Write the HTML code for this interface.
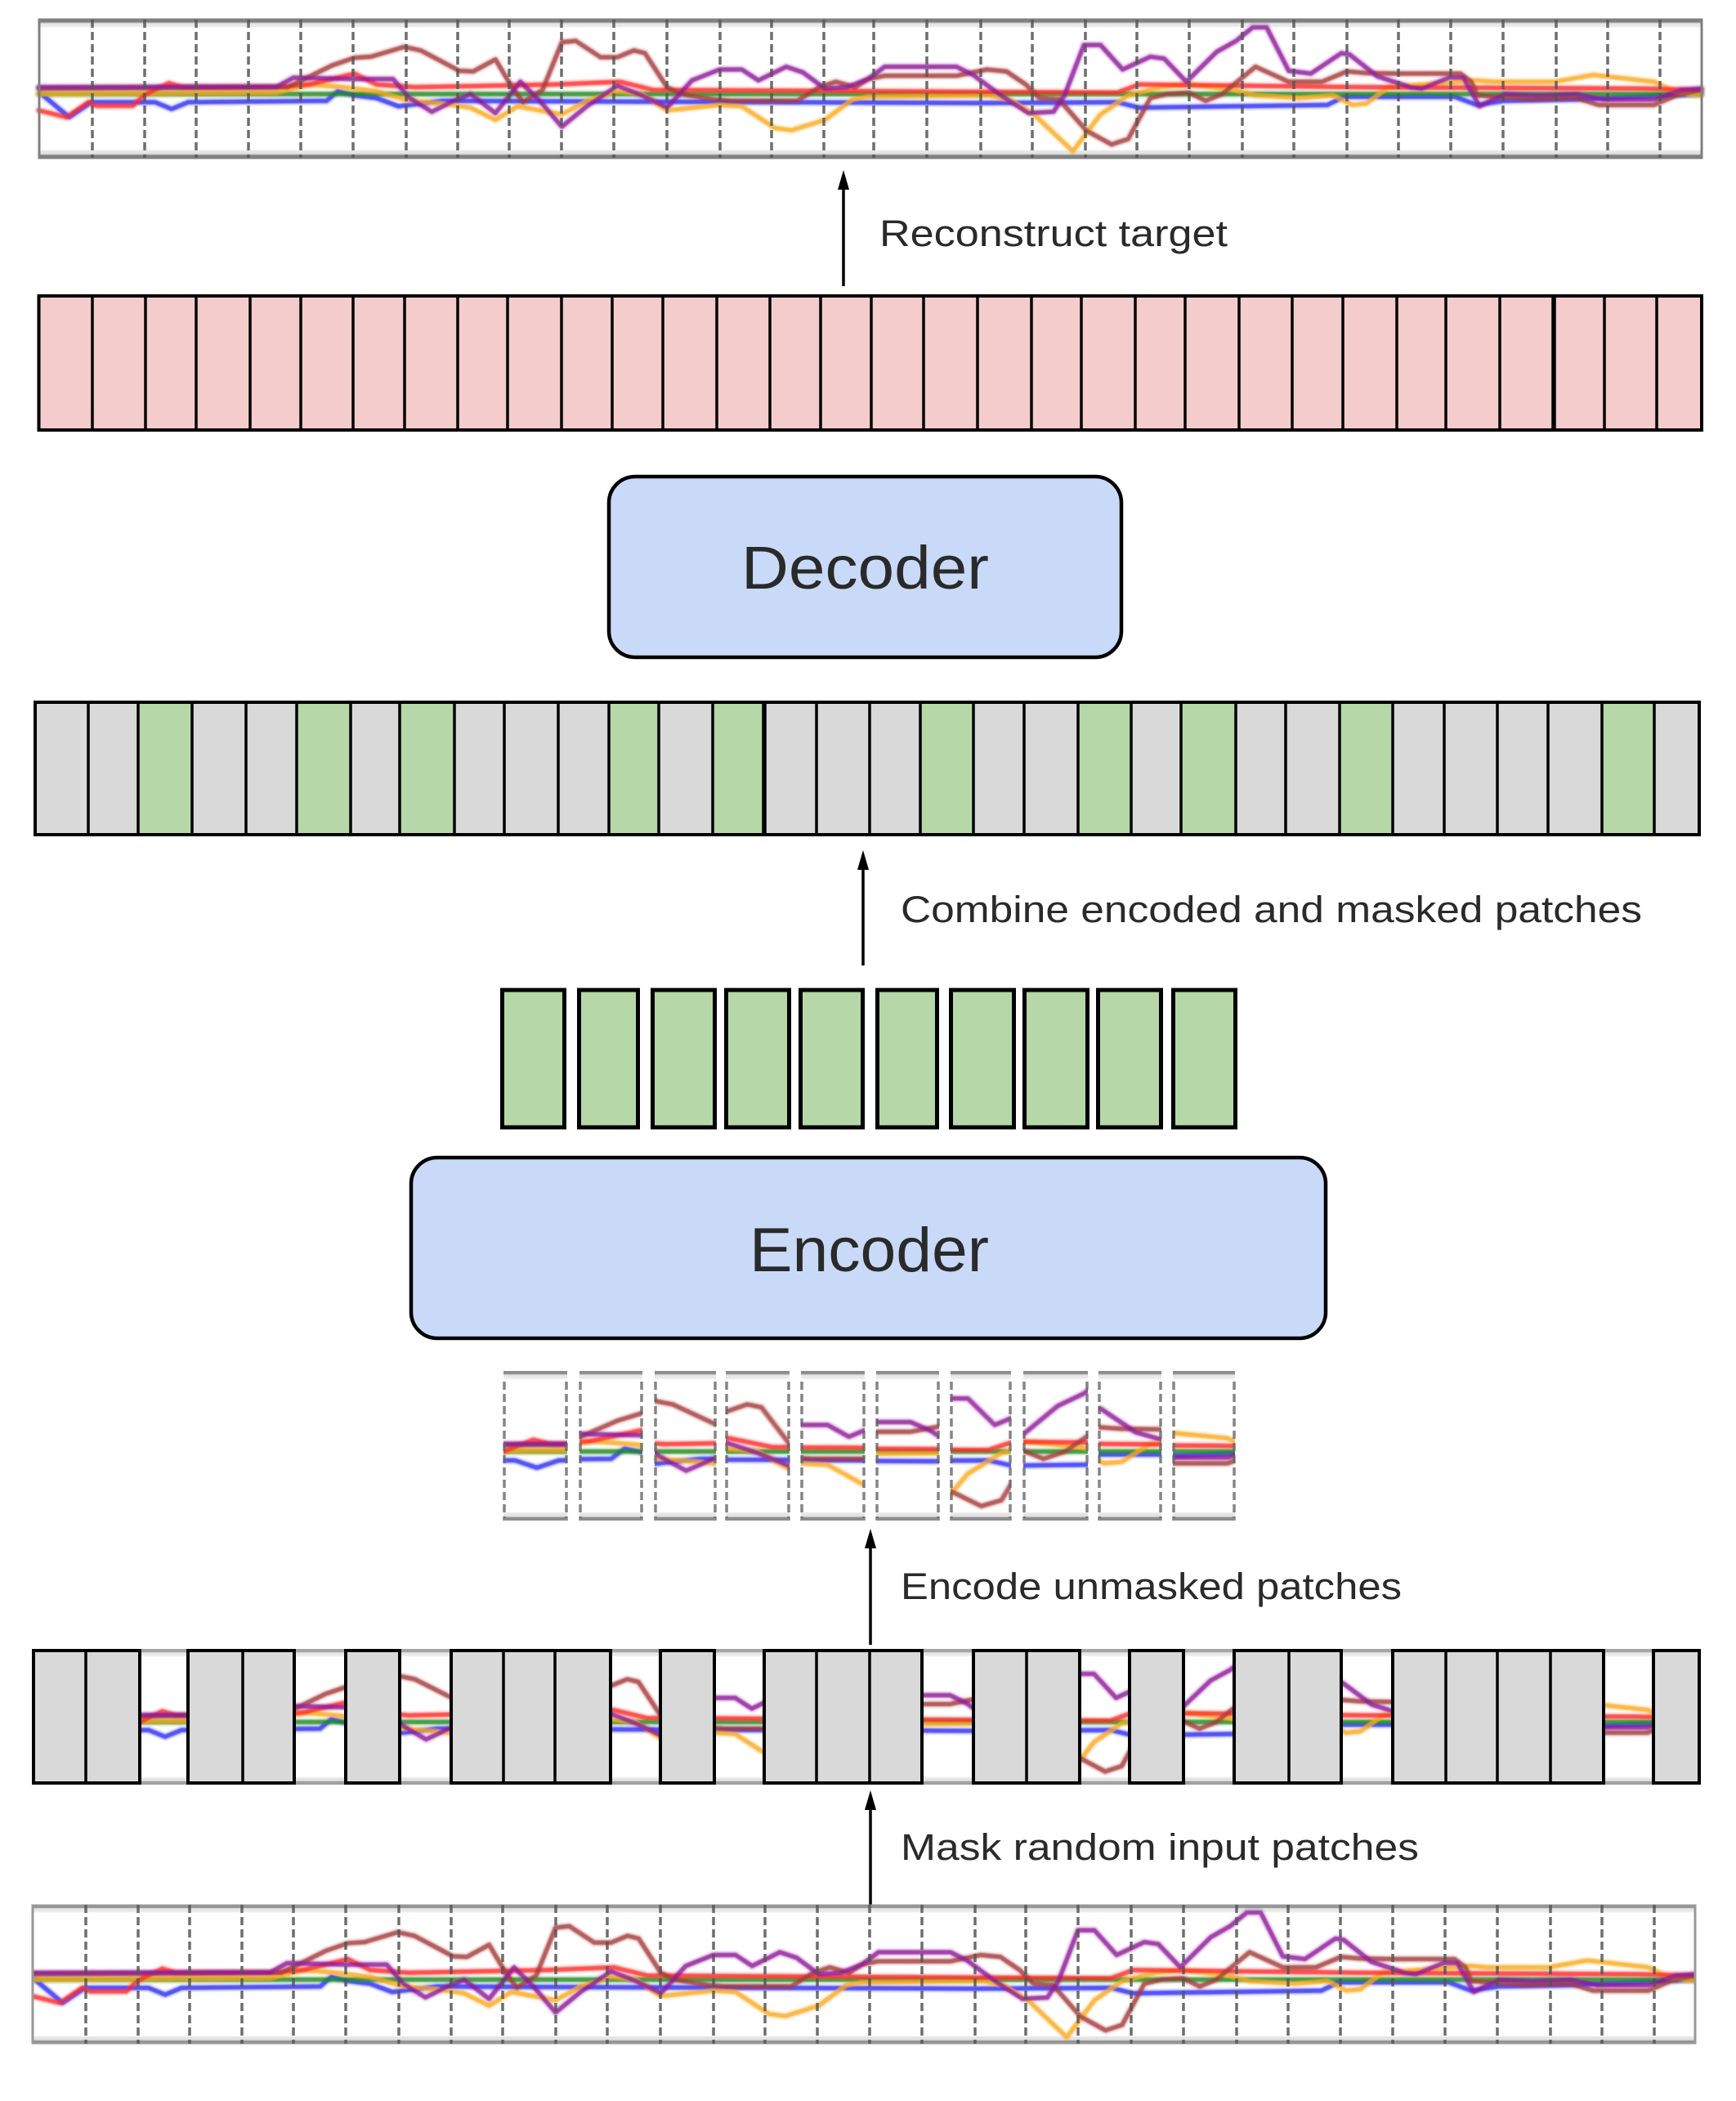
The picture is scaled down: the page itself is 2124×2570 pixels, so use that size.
<!DOCTYPE html>
<html><head><meta charset="utf-8"><title>Masked time series autoencoder</title>
<style>html,body{margin:0;padding:0;background:#fff}svg{display:block}text{font-family:"Liberation Sans",sans-serif;fill:#2a2a2a}</style>
</head><body>
<svg width="2124" height="2570" viewBox="0 0 2124 2570" xmlns="http://www.w3.org/2000/svg">
<defs>
<filter id="b" x="-2%" y="-5%" width="104%" height="110%"><feGaussianBlur stdDeviation="0.8"/></filter>
<g id="lines">
<polyline vector-effect="non-scaling-stroke" stroke="#2f2ff5" points="75,345 125,430 165,375 280,375 310,400 340,375 590,370 610,335 640,350 680,360 720,390 800,370 1768,378 2018,375 2058,395 2398,385 2428,355 2628,355 2668,385 2718,370 2848,365 3073,345"/>
<polyline vector-effect="non-scaling-stroke" stroke="#1f8a1f" points="70,345 3073,345"/>
<polyline vector-effect="non-scaling-stroke" stroke="#fbab1e" points="70,345 500,340 560,310 620,320 680,335 740,370 800,380 850,395 895,440 935,390 1015,420 1060,370 1115,335 1160,345 1205,405 1300,385 1340,390 1400,470 1430,478 1490,440 1540,365 1568,355 1788,350 1828,370 1868,420 1938,555 1988,420 2038,350 2098,320 2148,310 2228,330 2268,350 2348,360 2408,350 2443,385 2468,380 2508,320 2568,310 2668,295 2698,300 2808,300 2878,275 2988,300 3028,340 3073,350"/>
<polyline vector-effect="non-scaling-stroke" stroke="#ff2c2c" points="70,405 120,430 160,375 175,388 240,388 260,350 305,305 330,320 500,320 560,310 640,270 680,310 750,320 1000,310 1120,300 1180,330 2018,340 2058,310 2468,320 2968,325 3073,330"/>
<polyline vector-effect="non-scaling-stroke" stroke="#a53c3c" points="70,325 520,320 600,240 640,212 670,208 730,172 760,185 830,260 855,262 895,218 925,320 945,375 980,330 1015,155 1040,150 1085,210 1115,210 1145,185 1165,195 1205,320 1230,345 1290,365 1320,370 1440,370 1480,320 1510,300 1545,320 1568,290 1598,278 1728,278 1783,255 1818,262 1853,310 1878,360 1913,365 1963,480 2008,530 2038,510 2078,360 2108,345 2148,340 2178,370 2208,345 2268,245 2328,300 2388,300 2433,262 2468,268 2528,270 2638,270 2658,300 2668,350 2768,365 2848,360 2888,385 2988,385 3028,350 3073,330"/>
<polyline vector-effect="non-scaling-stroke" stroke="#8f1a9a" points="70,320 500,318 530,285 640,290 710,290 740,360 780,410 820,370 850,345 895,415 940,300 975,370 1015,465 1060,390 1115,315 1160,350 1205,395 1250,295 1300,255 1340,255 1370,295 1420,245 1450,265 1490,325 1530,320 1568,290 1598,245 1728,245 1758,275 1808,350 1858,415 1903,410 1923,350 1958,165 1988,165 2028,255 2078,208 2103,215 2143,300 2198,190 2233,150 2263,100 2288,100 2328,260 2368,270 2423,195 2438,200 2488,280 2548,320 2568,325 2618,285 2643,285 2673,390 2718,345 2778,350 2848,345 2898,365 2988,365 3038,330 3073,325"/>
</g>
<g id="chart" filter="url(#b)">
<rect x="47" y="24" width="2035" height="4" fill="#808080"/><rect x="47" y="28" width="2035" height="5" fill="#e8e8e8"/>
<rect x="47" y="184" width="2035" height="5" fill="#e4e4e4"/><rect x="47" y="189" width="2035" height="4" fill="#808080"/>
<g transform="scale(0.67730,0.33333)" fill="none" stroke-linejoin="round" stroke-linecap="round">
<use href="#lines" stroke-width="10" stroke-opacity="0.18"/>
<use href="#lines" stroke-width="5.5" stroke-opacity="0.78"/>
</g>
</g>
</defs>
<rect width="2124" height="2570" fill="#fff"/>

<!-- top target strip -->
<use href="#chart"/>
<rect x="48" y="24" width="2034" height="169" fill="none" stroke="#808080" stroke-width="3"/>
<path d="M113 24V193M177 24V193M240 24V193M304 24V193M368 24V193M432 24V193M497 24V193M560 24V193M623 24V193M687 24V193M751 24V193M816 24V193M881 24V193M944 24V193M1008 24V193M1069 24V193M1134 24V193M1200 24V193M1263 24V193M1328 24V193M1391 24V193M1455 24V193M1520 24V193M1583 24V193M1648 24V193M1711 24V193M1775 24V193M1839 24V193M1904 24V193M1967 24V193M2031 24V193" stroke="#555" stroke-width="3.5" stroke-dasharray="10 5" fill="none" opacity=".85"/>

<!-- arrow 1 -->
<path d="M1032 350V218" stroke="#000" stroke-width="3.5" fill="none"/><path d="M1032 208L1039 232H1025Z" fill="#000"/>
<text x="1076" y="301" font-size="45" textLength="426" lengthAdjust="spacingAndGlyphs">Reconstruct target</text>

<!-- pink row -->
<rect x="47.5" y="362" width="2034.5" height="164" fill="#f4cccc" stroke="#000" stroke-width="4"/>
<path d="M113 362V526M178 362V526M240 362V526M306 362V526M368 362V526M432 362V526M495 362V526M560 362V526M621 362V526M687 362V526M749 362V526M811 362V526M877 362V526M942 362V526M1004 362V526M1066 362V526M1130 362V526M1196 362V526M1262 362V526M1323 362V526M1389 362V526M1450 362V526M1516 362V526M1581 362V526M1643 362V526M1709 362V526M1769 362V526M1835 362V526M1963 362V526M2027 362V526" stroke="#000" stroke-width="3.5" fill="none"/>
<path d="M1901 362V526" stroke="#000" stroke-width="5.5"/>

<!-- decoder -->
<rect x="745" y="583" width="627" height="221" rx="32" fill="#c9daf8" stroke="#000" stroke-width="4.5"/>
<text x="907" y="720" font-size="74" textLength="303" lengthAdjust="spacingAndGlyphs">Decoder</text>

<!-- combined row -->
<rect x="43" y="859" width="2036" height="162" fill="#d9d9d9"/>
<g fill="#b6d7a8"><rect x="169" y="859" width="66" height="162"/><rect x="363" y="859" width="66" height="162"/><rect x="489" y="859" width="67" height="162"/><rect x="745" y="859" width="61" height="162"/><rect x="872" y="859" width="63" height="162"/><rect x="1126" y="859" width="65" height="162"/><rect x="1319" y="859" width="65" height="162"/><rect x="1445" y="859" width="67" height="162"/><rect x="1639" y="859" width="65" height="162"/><rect x="1960" y="859" width="64" height="162"/></g>
<rect x="43" y="859" width="2036" height="162" fill="none" stroke="#000" stroke-width="4"/>
<path d="M108 859V1021M169 859V1021M235 859V1021M301 859V1021M363 859V1021M429 859V1021M489 859V1021M556 859V1021M617 859V1021M683 859V1021M745 859V1021M806 859V1021M872 859V1021M999 859V1021M1064 859V1021M1126 859V1021M1191 859V1021M1253 859V1021M1319 859V1021M1384 859V1021M1445 859V1021M1512 859V1021M1573 859V1021M1639 859V1021M1704 859V1021M1767 859V1021M1832 859V1021M1894 859V1021M1960 859V1021M2024 859V1021" stroke="#000" stroke-width="3.5" fill="none"/>
<path d="M935 859V1021" stroke="#000" stroke-width="5.5"/>

<!-- arrow 2 -->
<path d="M1056 1181V1050" stroke="#000" stroke-width="3.5" fill="none"/><path d="M1056 1040L1063 1064H1049Z" fill="#000"/>
<text x="1102" y="1128" font-size="45" textLength="907" lengthAdjust="spacingAndGlyphs">Combine encoded and masked patches</text>

<!-- encoded green patches -->
<g fill="#b6d7a8" stroke="#000" stroke-width="5">
<rect x="614.5" y="1211" width="76" height="168"/><rect x="708.5" y="1211" width="72" height="168"/><rect x="798.5" y="1211" width="76" height="168"/><rect x="888.5" y="1211" width="77" height="168"/><rect x="979.5" y="1211" width="76" height="168"/><rect x="1073.5" y="1211" width="73" height="168"/><rect x="1163.5" y="1211" width="77" height="168"/><rect x="1253.5" y="1211" width="77" height="168"/><rect x="1343.5" y="1211" width="77" height="168"/><rect x="1435.5" y="1211" width="76" height="168"/>
</g>

<!-- encoder -->
<rect x="503" y="1416" width="1119" height="221" rx="32" fill="#c9daf8" stroke="#000" stroke-width="4.5"/>
<text x="917" y="1555" font-size="76" textLength="293" lengthAdjust="spacingAndGlyphs">Encoder</text>

<!-- unmasked patches -->
<svg x="616" y="1677" width="78" height="183" viewBox="179 24 59 169" preserveAspectRatio="none"><use href="#chart"/></svg>
<svg x="709" y="1677" width="77" height="183" viewBox="368 24 63 169" preserveAspectRatio="none"><use href="#chart"/></svg>
<svg x="801" y="1677" width="75" height="183" viewBox="497 24 61 169" preserveAspectRatio="none"><use href="#chart"/></svg>
<svg x="888" y="1677" width="78" height="183" viewBox="755 24 61 169" preserveAspectRatio="none"><use href="#chart"/></svg>
<svg x="980" y="1677" width="78" height="183" viewBox="882 24 61 169" preserveAspectRatio="none"><use href="#chart"/></svg>
<svg x="1072" y="1677" width="77" height="183" viewBox="1136 24 63 169" preserveAspectRatio="none"><use href="#chart"/></svg>
<svg x="1163" y="1677" width="74" height="183" viewBox="1329 24 61 169" preserveAspectRatio="none"><use href="#chart"/></svg>
<svg x="1252" y="1677" width="79" height="183" viewBox="1456 24 61 169" preserveAspectRatio="none"><use href="#chart"/></svg>
<svg x="1344" y="1677" width="77" height="183" viewBox="1649 24 61 169" preserveAspectRatio="none"><use href="#chart"/></svg>
<svg x="1435" y="1677" width="76" height="183" viewBox="1970 24 61 169" preserveAspectRatio="none"><use href="#chart"/></svg>
<path d="M617 1690V1860M693 1690V1860M710 1690V1860M785 1690V1860M802 1690V1860M875 1690V1860M889 1690V1860M965 1690V1860M981 1690V1860M1057 1690V1860M1073 1690V1860M1148 1690V1860M1164 1690V1860M1236 1690V1860M1253 1690V1860M1330 1690V1860M1345 1690V1860M1420 1690V1860M1436 1690V1860M1510 1690V1860" stroke="#666" stroke-width="3.5" stroke-dasharray="10 5" fill="none" opacity=".8"/>
<g fill="#8c8c8c">
<rect x="616" y="1677" width="78" height="3"/><rect x="709" y="1677" width="77" height="3"/><rect x="801" y="1677" width="75" height="3"/><rect x="888" y="1677" width="78" height="3"/><rect x="980" y="1677" width="78" height="3"/><rect x="1072" y="1677" width="77" height="3"/><rect x="1163" y="1677" width="74" height="3"/><rect x="1252" y="1677" width="79" height="3"/><rect x="1344" y="1677" width="77" height="3"/><rect x="1435" y="1677" width="76" height="3"/>
<rect x="616" y="1857" width="78" height="3"/><rect x="709" y="1857" width="77" height="3"/><rect x="801" y="1857" width="75" height="3"/><rect x="888" y="1857" width="78" height="3"/><rect x="980" y="1857" width="78" height="3"/><rect x="1072" y="1857" width="77" height="3"/><rect x="1163" y="1857" width="74" height="3"/><rect x="1252" y="1857" width="79" height="3"/><rect x="1344" y="1857" width="77" height="3"/><rect x="1435" y="1857" width="76" height="3"/>
</g>

<!-- arrow 3 -->
<path d="M1065 2012V1880" stroke="#000" stroke-width="3.5" fill="none"/><path d="M1065 1870L1072 1894H1058Z" fill="#000"/>
<text x="1102" y="1956" font-size="45" textLength="613" lengthAdjust="spacingAndGlyphs">Encode unmasked patches</text>

<!-- masked row -->
<svg x="171" y="2017" width="59" height="166" viewBox="179 24 59 169" preserveAspectRatio="none"><use href="#chart"/></svg>
<svg x="360" y="2017" width="63" height="166" viewBox="368 24 63 169" preserveAspectRatio="none"><use href="#chart"/></svg>
<svg x="489" y="2017" width="63" height="166" viewBox="497 24 61 169" preserveAspectRatio="none"><use href="#chart"/></svg>
<svg x="747" y="2017" width="61" height="166" viewBox="755 24 61 169" preserveAspectRatio="none"><use href="#chart"/></svg>
<svg x="874" y="2017" width="61" height="166" viewBox="882 24 61 169" preserveAspectRatio="none"><use href="#chart"/></svg>
<svg x="1128" y="2017" width="63" height="166" viewBox="1136 24 63 169" preserveAspectRatio="none"><use href="#chart"/></svg>
<svg x="1321" y="2017" width="61" height="166" viewBox="1329 24 61 169" preserveAspectRatio="none"><use href="#chart"/></svg>
<svg x="1448" y="2017" width="62" height="166" viewBox="1456 24 61 169" preserveAspectRatio="none"><use href="#chart"/></svg>
<svg x="1641" y="2017" width="63" height="166" viewBox="1649 24 61 169" preserveAspectRatio="none"><use href="#chart"/></svg>
<svg x="1962" y="2017" width="61" height="166" viewBox="1970 24 61 169" preserveAspectRatio="none"><use href="#chart"/></svg>
<rect x="41" y="2017" width="2038" height="4" fill="#a5a5a5"/><rect x="41" y="2179" width="2038" height="4" fill="#a0a0a0"/>
<g fill="#d9d9d9" stroke="#000" stroke-width="4">
<rect x="41" y="2019" width="130" height="162"/><rect x="230" y="2019" width="130" height="162"/><rect x="423" y="2019" width="66" height="162"/><rect x="552" y="2019" width="195" height="162"/><rect x="808" y="2019" width="66" height="162"/><rect x="935" y="2019" width="193" height="162"/><rect x="1191" y="2019" width="130" height="162"/><rect x="1382" y="2019" width="66" height="162"/><rect x="1510" y="2019" width="131" height="162"/><rect x="1704" y="2019" width="258" height="162"/><rect x="2023" y="2019" width="56" height="162"/>
</g>
<path d="M105 2019V2181M297 2019V2181M616 2019V2181M679 2019V2181M999 2019V2181M1064 2019V2181M1256 2019V2181M1577 2019V2181M1769 2019V2181M1832 2019V2181M1897 2019V2181" stroke="#000" stroke-width="3.5" fill="none"/>

<!-- arrow 4 -->
<path d="M1065 2330V2200" stroke="#000" stroke-width="3.5" fill="none"/><path d="M1065 2190L1072 2214H1058Z" fill="#000"/>
<text x="1102" y="2275" font-size="45" textLength="634" lengthAdjust="spacingAndGlyphs">Mask random input patches</text>

<!-- bottom input strip -->
<svg x="39" y="2330" width="2036" height="170" viewBox="47 24 2035 169" preserveAspectRatio="none"><use href="#chart"/></svg>
<rect x="40" y="2331" width="2034" height="168" fill="none" stroke="#999" stroke-width="3"/>
<path d="M105 2330V2500M169 2330V2500M232 2330V2500M296 2330V2500M359 2330V2500M423 2330V2500M488 2330V2500M552 2330V2500M615 2330V2500M680 2330V2500M743 2330V2500M808 2330V2500M873 2330V2500M936 2330V2500M1000 2330V2500M1064 2330V2500M1128 2330V2500M1193 2330V2500M1255 2330V2500M1319 2330V2500M1384 2330V2500M1448 2330V2500M1513 2330V2500M1576 2330V2500M1640 2330V2500M1704 2330V2500M1768 2330V2500M1832 2330V2500M1897 2330V2500M1960 2330V2500M2024 2330V2500" stroke="#555" stroke-width="3.5" stroke-dasharray="10 5" fill="none" opacity=".85"/>
</svg>
</body></html>
